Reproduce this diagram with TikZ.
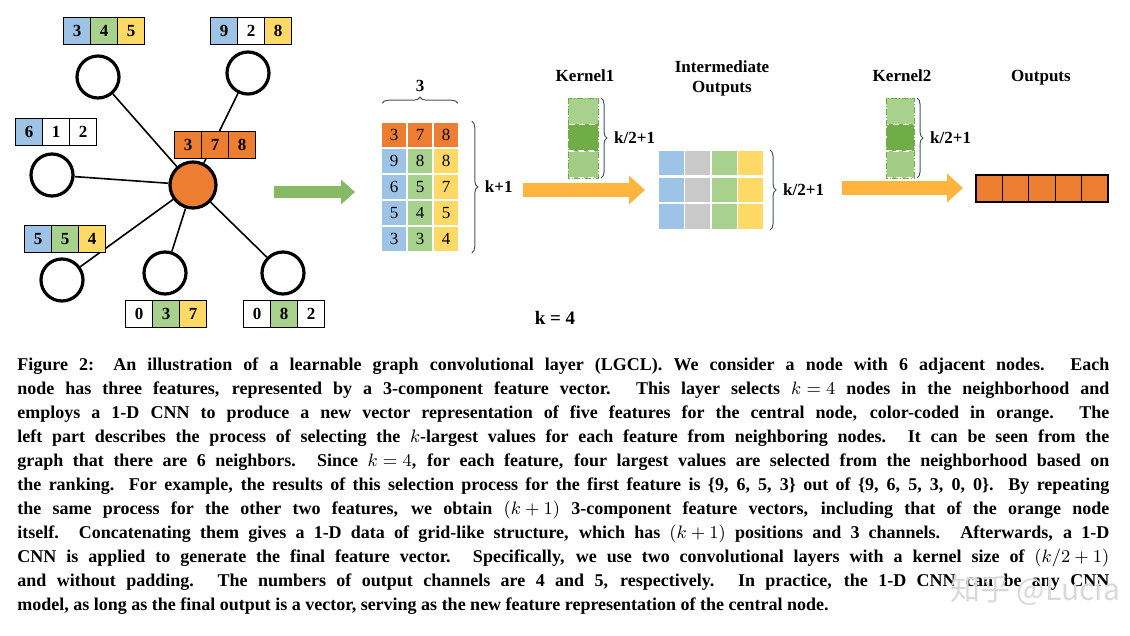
\documentclass[tikz,border=0pt]{standalone}
\usepackage{fontspec}
\setmainfont{Liberation Serif}
\newfontfamily\cjk{Noto Sans CJK SC}
\usetikzlibrary{arrows.meta,decorations.pathreplacing}
\definecolor{cblue}{HTML}{9DC3E6}
\definecolor{cgreen}{HTML}{A9D18E}
\definecolor{cyel}{HTML}{FFD966}
\definecolor{corg}{HTML}{ED7D31}
\definecolor{cgray}{HTML}{C9C9C9}
\definecolor{kdark}{HTML}{70AD47}
\definecolor{bracec}{HTML}{44546A}
\tikzset{
  nb/.style={circle,draw,line width=1.6pt,minimum size=21pt,inner sep=0pt},
  fcell/.style={draw,line width=0.5pt,minimum width=13.5pt,minimum height=13.5pt,inner sep=0pt,font=\bfseries\fontsize{8.5}{9}\selectfont},
  mcell/.style={draw=white,line width=0.8pt,minimum width=13pt,minimum height=13pt,inner sep=0pt,font=\fontsize{8.5}{9}\selectfont},
  lbl/.style={font=\bfseries\fontsize{8.5}{10}\selectfont,align=center},
  br/.style={draw=bracec,line width=0.5pt,decorate,decoration={brace,amplitude=3pt}},
  capstyle/.style={anchor=west,inner sep=0pt,font=\bfseries\fontsize{9}{11}\selectfont},
  linkstyle/.style={line width=0.8pt}
}
\newcommand{\featbox}[4]{% name, x, y, list col/val
  \foreach \c/\v [count=\i] in {#4}{
    \node[fcell,fill=\c] (#1-\i) at ({#2+(\i-2)*27},#3) {\v};
  }
}
\newcommand{\mm}[1]{\mbox{$#1$}}
\newcommand{\capline}[2]{\node[capstyle] at (17,#1) {\makebox[546pt][s]{#2}};}
\begin{document}
\begin{tikzpicture}[x=0.5pt,y=-0.5pt]
\useasboundingbox (0,0) rectangle (1130,636);
% graph
\node[nb,fill=corg,minimum size=23pt] (c) at (193,185) {};
\node[nb] (n1) at (98,77) {};
\node[nb] (n2) at (248,73) {};
\node[nb] (n3) at (52,175) {};
\node[nb] (n4) at (62,280) {};
\node[nb] (n5) at (165,273) {};
\node[nb] (n6) at (283,273) {};
\foreach \n in {n1,n2,n3,n4,n5,n6} \draw[linkstyle] (c) -- (\n);
\featbox{b1}{104}{31}{cblue/3,cgreen/4,cyel/5}
\featbox{b2}{251}{31}{cblue/9,white/2,cyel/8}
\featbox{b3}{56}{132}{cblue/6,white/1,white/2}
\featbox{b0}{215}{145}{corg/3,corg/7,corg/8}
\featbox{b4}{65}{239}{cblue/5,cgreen/5,cyel/4}
\featbox{b5}{166}{314}{white/0,cgreen/3,cyel/7}
\featbox{b6}{284}{314}{white/0,cgreen/8,white/2}
% green arrow
\coordinate (ga1) at (274,192);
\coordinate (ga2) at (355,192);
\draw[line width=6pt,color=kdark!85!white,-{Triangle[length=7pt,width=12pt]}] (ga1) -- (ga2);
% matrix
\foreach \r/\a/\b/\cc/\ca/\cb/\ccc [count=\j] in {0/3/7/8/corg/corg/corg,1/9/8/8/cblue/cgreen/cyel,2/6/5/7/cblue/cgreen/cyel,3/5/4/5/cblue/cgreen/cyel,4/3/3/4/cblue/cgreen/cyel}{
  \node[mcell,fill=\ca] (m\j-1) at (394,135+\r*26) {\a};
  \node[mcell,fill=\cb] (m\j-2) at (420,135+\r*26) {\b};
  \node[mcell,fill=\ccc] (m\j-3) at (446,135+\r*26) {\cc};
}
\draw[br] ([xshift=1pt,yshift=9]m1-1.north west) -- ([xshift=-1pt,yshift=9]m1-3.north east) node[midway,above=2pt,lbl] (l3) {3};
\draw[br] ([xshift=6]m1-3.north east) -- ([xshift=6]m5-3.south east) node[midway,right=3pt,lbl] (lk1) {k+1};
% arrow 1
\coordinate (ya1) at (523,190);
\coordinate (ya2) at (645,190);
\draw[line width=7pt,color=cyel!60!orange,-{Triangle[length=8pt,width=14pt]}] (ya1) -- (ya2);
% kernel 1
\foreach \i/\cl in {0/cgreen,1/kdark,2/cgreen!90!kdark}{
  \node[minimum width=15pt,minimum height=13.3pt,inner sep=0pt,fill=\cl,draw=white,densely dashed,line width=0.5pt] (k1-\i) at (583,111+\i*26.7) {};
}
\draw[kdark,densely dash dot,line width=0.4pt] (568,98) rectangle (598,178);
\draw[br] (601,98) -- (601,178) node[midway,right=3pt,lbl] (lk2) {k/2+1};
\node[lbl] (kn1) at (585,76) {Kernel1};
% intermediate
\foreach \cl [count=\i] in {cblue,cgray,cgreen,cyel}{
  \foreach \r in {0,1,2}{
    \node[mcell,minimum width=13.3pt,fill=\cl] (im\i-\r) at ({658+(\i-0.5)*26.5},{163.3+\r*26.7}) {};
  }
}
\node[lbl] (imt) at (722,78) {Intermediate\\Outputs};
\draw[br] (770,150) -- (770,230) node[midway,right=3pt,lbl] (lk3) {k/2+1};
% arrow 2
\coordinate (yb1) at (842,188);
\coordinate (yb2) at (963,188);
\draw[line width=7pt,color=cyel!60!orange,-{Triangle[length=8pt,width=14pt]}] (yb1) -- (yb2);
% kernel 2
\foreach \i/\cl in {0/cgreen,1/kdark,2/cgreen!90!kdark}{
  \node[minimum width=14pt,minimum height=13.3pt,inner sep=0pt,fill=\cl,draw=white,densely dashed,line width=0.5pt] (k2-\i) at (900,111+\i*26.7) {};
}
\draw[kdark,densely dash dot,line width=0.4pt] (886,98) rectangle (914,178);
\draw[br] (917,98) -- (917,178) node[midway,right=3pt,lbl] (lk4) {k/2+1};
\node[lbl] (kn2) at (902,76) {Kernel2};
% outputs
\foreach \i in {1,...,5}{
  \node[draw,line width=0.6pt,fill=corg,minimum width=13.2pt,minimum height=13.5pt,inner sep=0pt] (o\i) at ({976+(\i-0.5)*26.4},188.5) {};
}
\node[lbl] (ot) at (1041,78) {Outputs};
\node[lbl,font=\bfseries\fontsize{9.5}{11}\selectfont] (k4) at (555,318) {k = 4};
% caption
\capline{366}{Figure 2: An illustration of a learnable graph convolutional layer (LGCL). We consider a node with 6 adjacent nodes. Each}
\capline{390}{node has three features, represented by a 3-component feature vector. This layer selects \mm{k=4} nodes in the neighborhood and}
\capline{414}{employs a 1-D CNN to produce a new vector representation of five features for the central node, color-coded in orange. The}
\capline{438}{left part describes the process of selecting the \mm{k}-largest values for each feature from neighboring nodes. It can be seen from the}
\capline{462}{graph that there are 6 neighbors. Since \mm{k=4}, for each feature, four largest values are selected from the neighborhood based on}
\capline{486}{the ranking. For example, the results of this selection process for the first feature is \{9, 6, 5, 3\} out of \{9, 6, 5, 3, 0, 0\}. By repeating}
\capline{510}{the same process for the other two features, we obtain \mm{(k+1)} 3-component feature vectors, including that of the orange node}
\capline{534}{itself. Concatenating them gives a 1-D data of grid-like structure, which has \mm{(k+1)} positions and 3 channels. Afterwards, a 1-D}
\capline{558}{CNN is applied to generate the final feature vector. Specifically, we use two convolutional layers with a kernel size of \mm{(k/2+1)}}
\capline{582}{and without padding. The numbers of output channels are 4 and 5, respectively. In practice, the 1-D CNN can be any CNN}
\node[capstyle] (cl11) at (17,606) {model, as long as the final output is a vector, serving as the new feature representation of the central node.};
\node[font=\cjk\fontsize{15}{16}\selectfont,text=gray!30] (wm) at (1035,590) {知乎 @Lucia};
\end{tikzpicture}
\end{document}
